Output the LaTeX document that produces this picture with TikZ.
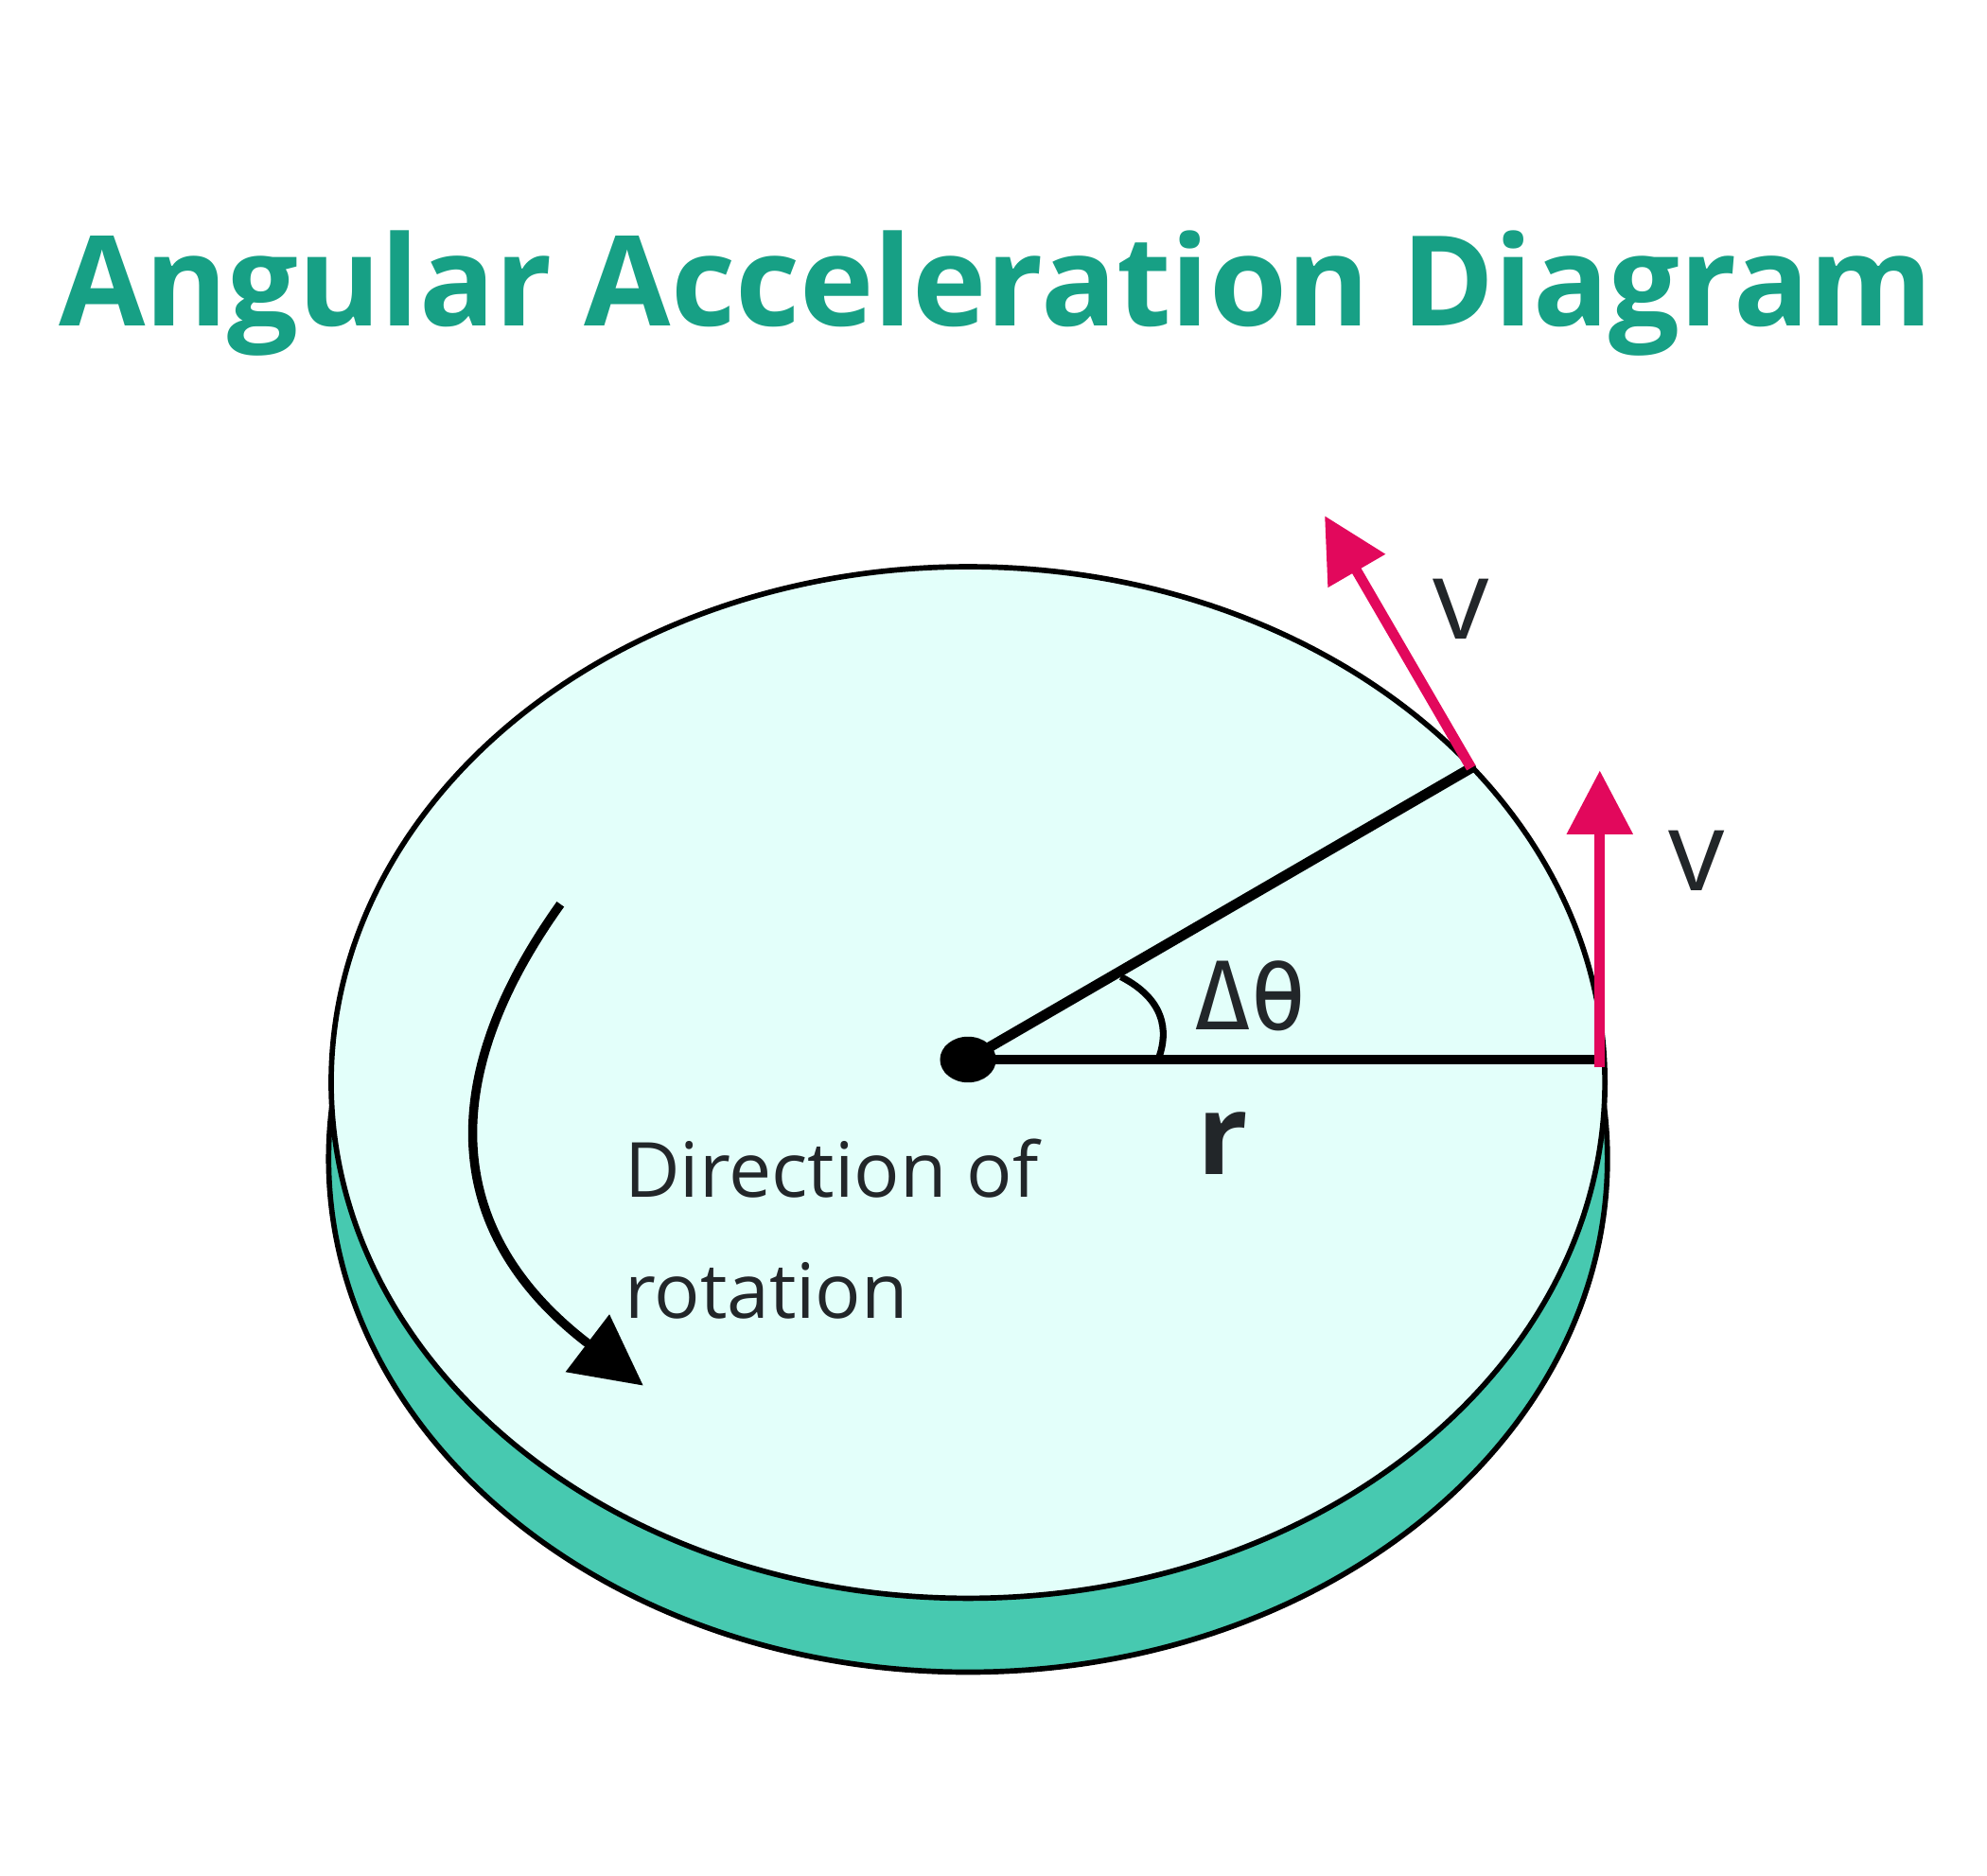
\documentclass[tikz,border=0pt]{standalone}
\usepackage{fontspec}
\setmainfont{Open Sans}
\newfontfamily\monofont{DejaVu Sans Mono}
\usetikzlibrary{arrows.meta, positioning}
\definecolor{teal}{HTML}{17A085}
\definecolor{diskside}{HTML}{47C9B0}
\definecolor{disktop}{HTML}{E3FFFA}
\definecolor{pink}{HTML}{E2085C}
\definecolor{ink}{HTML}{222629}
\begin{document}
\begin{tikzpicture}[x=0.01cm,y=-0.01cm,
        radius line/.style={line width=2.3pt,line cap=round},
        velocity/.style={pink,line width=2.3pt,-{Triangle[length=0.5cm,width=0.5cm]}},
        label/.style={text=ink,font=\fontsize{25}{30}\selectfont}]
    \useasboundingbox (0,0) rectangle (1560,1473);
    % disk
    \draw[fill=diskside,line width=1.2pt] (760,910) ellipse [x radius=502,y radius=403];
    \draw[fill=disktop,line width=1.2pt] (760,850) ellipse [x radius=500,y radius=405];
    \node[font=\fontsize{28}{34}\selectfont\bfseries,text=teal] (title) at (782,230) {Angular Acceleration Diagram};
    % radii
    \coordinate (O) at (760,832);
    \coordinate (E) at (1256,832);
    \coordinate (P) at (1155,603);
    \draw[radius line] (O) -- (E);
    \draw[radius line] (O) -- (P);
    \fill (O) ellipse [x radius=22,y radius=18];
    \draw[line width=1.5pt] (880,767) .. controls (915,785) and (917,810) .. (910,830);
    % velocities
    \coordinate (Ptip) at (1040,405);
    \coordinate (Etip) at (1256,605);
    \draw[velocity] (P) -- (Ptip);
    \draw[velocity] (1256,838) -- (Etip);
    \node[label] (v1) at (1147,478) {v};
    \node[label] (v2) at (1332,676) {v};
    \node[text=ink,font=\monofont\fontsize{21}{26}\selectfont] (dtheta) at (982,782) {Δθ};
    \node[text=ink,font=\fontsize{25}{30}\selectfont\bfseries] (r) at (960,898) {r};
    % rotation
    \node[text=ink,font=\fontsize{17}{27}\selectfont,align=left,anchor=north west] (dir) at (478,882) {Direction of\\rotation};
    \coordinate (rs) at (440,710);
    \coordinate (re) at (505,1088);
    \draw[line width=2pt,-{Triangle[length=0.55cm,width=0.55cm]}] (rs) .. controls (340,850) and (350,970) .. (re);
\end{tikzpicture}
\end{document}
